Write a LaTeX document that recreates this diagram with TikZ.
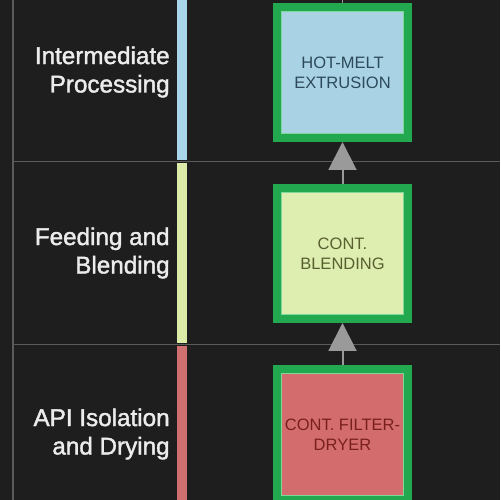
\documentclass[tikz,border=0pt]{standalone}
\usepackage{fontspec}
\setmainfont{Liberation Sans}
\newfontfamily\lanefont[FakeBold=1.6]{Liberation Sans}
\usetikzlibrary{arrows.meta}
\definecolor{bg}{HTML}{1E1E1E}
\definecolor{sepgray}{HTML}{5A5A5A}
\definecolor{barblue}{HTML}{A8D5E9}
\definecolor{baryellow}{HTML}{DCEBA8}
\definecolor{barred}{HTML}{CF6F6F}
\definecolor{fillblue}{HTML}{A9D3E5}
\definecolor{fillyellow}{HTML}{DEEDB0}
\definecolor{fillred}{HTML}{D36D6D}
\definecolor{boxgreen}{HTML}{22A84F}
\definecolor{innergreen}{HTML}{7FD89A}
\definecolor{arrowgray}{HTML}{9A9A9A}
\definecolor{labelwhite}{HTML}{ECECEC}
\definecolor{txtblue}{HTML}{2C4A5A}
\definecolor{txtyellow}{HTML}{596030}
\definecolor{txtred}{HTML}{7A1F1F}
\begin{document}
\begin{tikzpicture}[x=0.02cm,y=-0.02cm,
  sepline/.style={draw=sepgray, line width=0.025cm},
  lanelabel/.style={anchor=east, align=right, text=labelwhite, inner sep=0pt,
    font=\lanefont\fontsize{13.8}{16.2}\selectfont},
  procbox/.style={draw=boxgreen, line width=0.16cm, minimum width=2.62cm,
    minimum height=2.62cm, inner sep=0pt, align=center,
    font=\fontsize{9.4}{11.3}\selectfont},
  flow/.style={draw=arrowgray, line width=0.04cm,
    -{Triangle[width=0.56cm,length=0.56cm]}},
  feed/.style={draw=arrowgray, line width=0.03cm},
  innerline/.style={draw=innergreen, line width=0.02cm}]
\fill[bg] (0,0) rectangle (500,500);
\useasboundingbox (0,0) rectangle (500,500);
% lane separators
\draw[sepline] (13,0) -- (13,500);
\draw[sepline] (13,161.5) -- (500,161.5);
\draw[sepline] (13,344.5) -- (500,344.5);
% colour bars
\fill[barblue] (177,0) rectangle (187,160);
\fill[baryellow] (177,163) rectangle (187,343);
\fill[barred] (177,346) rectangle (187,500);
% lane labels
\node[lanelabel] (l1) at (170,72) {Intermediate\\Processing};
\node[lanelabel] (l2) at (170,253) {Feeding and\\Blending};
\node[lanelabel] (l3) at (170,434) {API Isolation\\and Drying};
% process boxes
\node[procbox, fill=fillblue, text=txtblue] (b1) at (342.5,72.5) {HOT-MELT\\EXTRUSION};
\node[procbox, fill=fillyellow, text=txtyellow] (b2) at (342.5,253.5) {CONT.\\BLENDING};
\node[procbox, fill=fillred, text=txtred] (b3) at (342.5,434.5) {CONT. FILTER-\\DRYER};
\foreach \b in {b1,b2,b3}{
  \draw[innerline] ([shift={(8.5,8.5)}]\b.north west) rectangle ([shift={(-8.5,-8.5)}]\b.south east);
}
% connectors
\coordinate (topend) at (342.5,0);
\draw[feed] (b1) -- (topend);
\draw[flow] (b2) -- (b1);
\draw[flow] (b3) -- (b2);
\end{tikzpicture}
\end{document}
